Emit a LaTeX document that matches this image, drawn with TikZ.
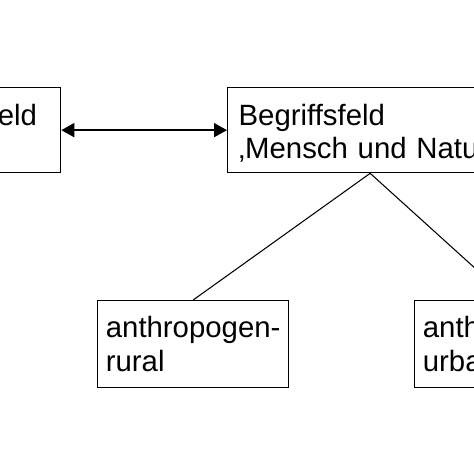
\documentclass[tikz,border=0pt]{standalone}
\usepackage{fontspec}
\setmainfont{Liberation Sans}
\usepackage{tikz}
\usetikzlibrary{arrows.meta, positioning}

\begin{document}
\begin{tikzpicture}[
    box/.style={draw, line width=0.75pt, anchor=north west, align=left, inner ysep=0pt, inner xsep=0.22cm,
        text height=0.76cm, text depth=0.94cm, font=\fontsize{16.7}{18.8}\selectfont},
    sub/.style={draw, line width=0.75pt, anchor=north west, align=left, inner ysep=0pt, inner xsep=0pt,
        minimum width=3.82cm, minimum height=1.74cm, font=\fontsize{16.7}{19.3}\selectfont},
    arr/.style={{Triangle[length=0.26cm, width=0.28cm]}-{Triangle[length=0.26cm, width=0.28cm]}, line width=1pt},
    conn/.style={line width=0.6pt}
]
\useasboundingbox (0,0) rectangle (9.48,9.48);
\clip (0,0) rectangle (9.48,9.48);

% Top row
\node[box, text width=3.18cm] (feld) at (-2.42, 7.74) {Begriffsfeld};
\node[box, text width=5.26cm] (mensch) at (4.54, 7.74) {Begriffsfeld\\‚Mensch und Natur‘};
\draw[arr] (feld) -- (mensch);

% Bottom row
\node[sub] (rural) at (1.94, 3.48) {anthropogen-\\rural};
\node[sub] (urban) at (8.28, 3.48) {anthropogen-\\urban};

% Connectors
\draw[conn] (mensch.south) -- (rural.north);
\draw[conn] (mensch.south) -- (urban.north);

\end{tikzpicture}
\end{document}
